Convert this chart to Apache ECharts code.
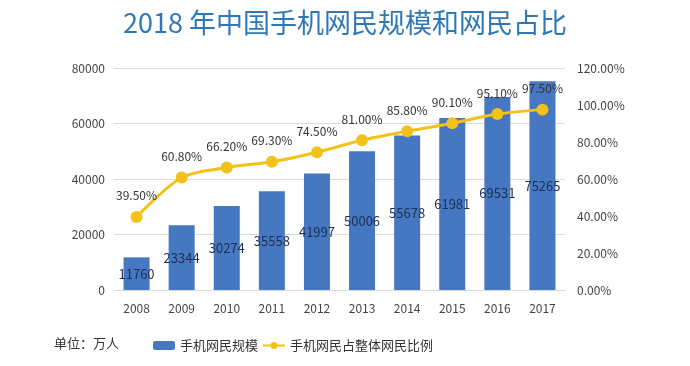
<!DOCTYPE html>
<html>
<head>
<meta charset="utf-8">
<script src="https://cdn.jsdelivr.net/npm/echarts@6/dist/echarts.min.js"></script>
<style>
  html, body { margin: 0; padding: 0; background: #fff; }
  #chart { width: 690px; height: 366px; }
</style>
</head>
<body>
<div id="chart"></div>
<script>
var years = ['2008', '2009', '2010', '2011', '2012', '2013', '2014', '2015', '2016', '2017']
var mobileUsers = [11760, 23344, 30274, 35558, 41997, 50006, 55678, 61981, 69531, 75265]
var mobileShare = [39.5, 60.8, 66.2, 69.3, 74.5, 81.0, 85.8, 90.1, 95.1, 97.5]

var font = '"Noto Sans CJK SC", "Noto Sans", sans-serif'
var chart = echarts.init(document.getElementById('chart'))

var option = {
  animation: false,
  textStyle: { fontFamily: font },
  title: {
    text: '2018 年中国手机网民规模和网民占比',
    left: 'center',
    top: 4,
    textStyle: { color: '#2f78b8', fontSize: 27, fontWeight: 'normal', fontFamily: font }
  },
  graphic: [{
    type: 'text',
    left: 54,
    top: 337,
    style: { text: '单位：万人', fill: '#333', font: '13px ' + font }
  }],
  legend: {
    left: 148,
    top: 334,
    itemGap: 4,
    itemWidth: 22,
    itemHeight: 9,
    textStyle: { color: '#333', fontSize: 13 },
    data: ['手机网民规模', '手机网民占整体网民比例']
  },
  grid: { left: 114, right: 125, top: 68, bottom: 76 },
  xAxis: {
    type: 'category',
    data: years,
    axisLine: { show: true, lineStyle: { color: '#d9d9d9' } },
    axisTick: { show: false },
    axisLabel: { color: '#444', fontSize: 12, margin: 12 }
  },
  yAxis: [{
    type: 'value',
    min: 0,
    max: 80000,
    interval: 20000,
    axisLine: { show: false },
    axisTick: { show: false },
    axisLabel: {
      color: '#444', fontSize: 12, margin: 9,
      formatter: function (v) { return String(v) }
    },
    splitLine: { lineStyle: { color: '#dcdcdc' } }
  }, {
    type: 'value',
    min: 0,
    max: 120,
    interval: 20,
    axisLine: { show: false },
    axisTick: { show: false },
    axisLabel: {
      color: '#444', fontSize: 12, margin: 12,
      formatter: function (v) { return v.toFixed(2) + '%' }
    },
    splitLine: { show: false }
  }],
  series: [{
    name: '手机网民规模',
    type: 'bar',
    barWidth: 26,
    data: mobileUsers,
    itemStyle: { color: '#4677c1' },
    label: {
      show: true,
      position: 'inside',
      color: '#1c2f55',
      fontSize: 13
    }
  }, {
    name: '手机网民占整体网民比例',
    type: 'line',
    yAxisIndex: 1,
    smooth: 0.3,
    data: mobileShare,
    symbol: 'circle',
    symbolSize: 12,
    itemStyle: { color: '#f2c21a' },
    lineStyle: { color: '#f2c21a', width: 3 },
    label: {
      show: true,
      position: 'top',
      distance: 9,
      color: '#333',
      fontSize: 12,
      formatter: function (p) { return p.value.toFixed(2) + '%' }
    }
  }]
}

chart.setOption(option)
</script>
</body>
</html>
